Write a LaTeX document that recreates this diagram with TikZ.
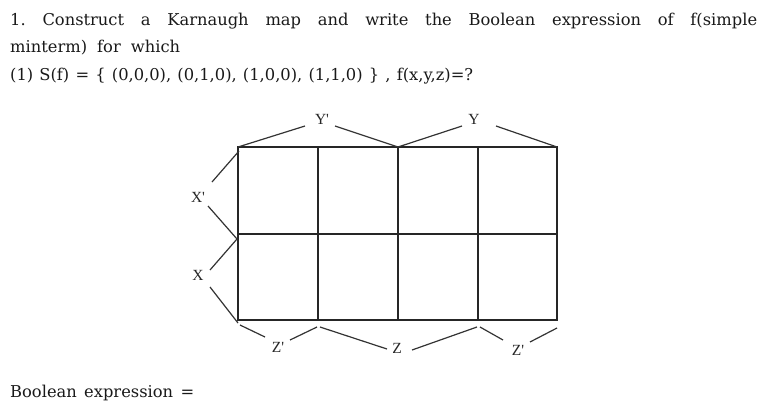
\documentclass[tikz,border=0pt]{standalone}
\usepackage{fontspec}
\setmainfont{DejaVu Serif}
\newfontfamily\labfont{Liberation Serif}
\frenchspacing
\begin{document}
\begin{tikzpicture}[x=1pt,y=-1pt,
  txt/.style={anchor=base west,inner sep=0pt,font=\fontsize{16.3}{18}\selectfont,text=black!90},
  lab/.style={inner sep=0pt,font=\labfont\fontsize{15.5}{16}\selectfont,text=black!85},
  grid/.style={draw=black!85,line width=1.1pt},
  brk/.style={draw=black!80,line width=1.2pt}]
\useasboundingbox (0,0) rectangle (765,416);
% texts
\node[txt] (t1) at (10,25) {\makebox[747pt][s]{1. Construct a Karnaugh map and write the Boolean expression of f(simple}};
\node[txt] (t2) at (10,52.5) {\makebox[170pt][s]{minterm) for which}};
\node[txt] (t3) at (10,80) {\makebox[463pt][s]{(1) S(f) = \{ (0,0,0), (0,1,0), (1,0,0), (1,1,0) \} , f(x,y,z)=?}};
\node[txt] (t4) at (10,397) {\makebox[184pt][s]{Boolean expression =}};
% grid corners
\foreach \n/\x in {0/238,1/318,2/398,3/478,4/557}{
  \coordinate (a\n) at (\x,147);
  \coordinate (b\n) at (\x,234);
  \coordinate (c\n) at (\x,320);
}
\draw[grid] (a0) rectangle (c4);
\draw[grid] (b0) -- (b4);
\draw[grid] (a1) -- (c1);
\draw[grid] (a2) -- (c2);
\draw[grid] (a3) -- (c3);
% labels
\node[lab] (yp) at (322,119) {Y'};
\node[lab] (y) at (474,119) {Y};
\node[lab] (xp) at (198,197) {X'};
\node[lab] (x) at (198,275) {X};
\node[lab] (z1) at (278,347) {Z'};
\node[lab] (z) at (397,348) {Z};
\node[lab] (z2) at (518,350) {Z'};
% bracket end points
\coordinate (ypl) at (305,126); \coordinate (ypr) at (335,126);
\coordinate (yl) at (462,126); \coordinate (yr) at (496,126);
\coordinate (xp1) at (239,151); \coordinate (xpt) at (212,182); \coordinate (xpb) at (208,206); \coordinate (xm) at (237,239);
\coordinate (xt) at (210,270); \coordinate (xb) at (210,287); \coordinate (x2) at (238,323);
\coordinate (zs) at (240,325); \coordinate (z1l) at (265,337); \coordinate (z1r) at (290,340); \coordinate (z1e) at (317,327);
\coordinate (zzs) at (320,327); \coordinate (zl) at (387,349); \coordinate (zr) at (412,350); \coordinate (zze) at (477,327);
\coordinate (z2s) at (480,327); \coordinate (z2l) at (503,340); \coordinate (z2r) at (530,342); \coordinate (z2e) at (557,328);
\draw[brk] (a0) -- (ypl);
\draw[brk] (ypr) -- (a2) -- (yl);
\draw[brk] (yr) -- (a4);
\draw[brk] (xp1) -- (xpt);
\draw[brk] (xpb) -- (xm) -- (xt);
\draw[brk] (xb) -- (x2);
\draw[brk] (zs) -- (z1l);
\draw[brk] (z1r) -- (z1e);
\draw[brk] (zzs) -- (zl);
\draw[brk] (zr) -- (zze);
\draw[brk] (z2s) -- (z2l);
\draw[brk] (z2r) -- (z2e);
\end{tikzpicture}
\end{document}
